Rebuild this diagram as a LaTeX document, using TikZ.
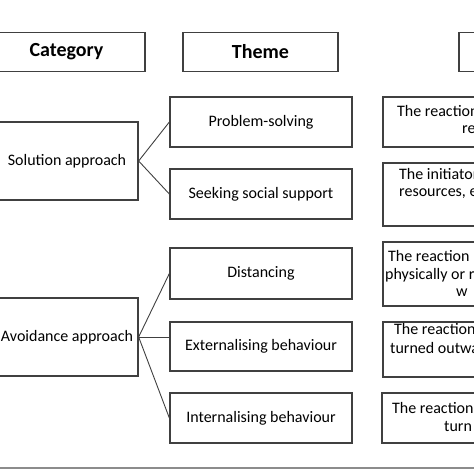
\documentclass[tikz,border=0pt]{standalone}
\usepackage{fontspec}
\setmainfont{Carlito}
\usepackage{tikz}

\begin{document}
\begin{tikzpicture}[
    x=1pt, y=-1pt, % one unit is one pixel, y grows downwards
    box/.style={draw=black!75, line width=1.3pt, inner sep=0pt, align=center,
        font=\fontsize{16}{19}\selectfont},
    head/.style={box, font=\fontsize{20}{23}\selectfont\bfseries},
    frag/.style={anchor=base west, inner sep=0pt, font=\fontsize{16}{19}\selectfont},
    link/.style={draw=black!75, line width=0.9pt}
]

\useasboundingbox (0,0) rectangle (474,474);
\clip (0,0) rectangle (474,474);

% Define the header nodes
\node[head, minimum width=157pt, minimum height=39pt] (cat) at (66.5, 52) {Category};
\node[head, minimum width=155pt, minimum height=39pt] (thm) at (260.5, 52) {Theme};
\node[head, minimum width=155pt, minimum height=39pt] (dsc) at (536.5, 52) {};

% Define the category nodes
\node[box, minimum width=142pt, minimum height=78pt] (sol) at (67, 161) {Solution approach};
\node[box, minimum width=142pt, minimum height=78pt] (avo) at (67, 337) {Avoidance approach};

% Define the theme nodes
\node[box, minimum width=182pt, minimum height=50pt] (prob) at (261, 122) {Problem-solving};
\node[box, minimum width=182pt, minimum height=50pt] (seek) at (261, 194) {Seeking social support};
\node[box, minimum width=182pt, minimum height=51pt] (dist) at (261, 273.5) {Distancing};
\node[box, minimum width=182pt, minimum height=49pt] (ext) at (261, 346.5) {Externalising behaviour};
\node[box, minimum width=182pt, minimum height=50pt] (int) at (261, 418) {Internalising behaviour};

% Define the description nodes
\node[box, minimum width=180pt, minimum height=50pt] (dprob) at (473, 122) {};
\node[box, minimum width=180pt, minimum height=63pt] (dseek) at (473, 194.5) {};
\node[box, minimum width=180pt, minimum height=64pt] (ddist) at (473, 274) {};
\node[box, minimum width=180pt, minimum height=55pt] (dext) at (473, 349.5) {};
\node[box, minimum width=180pt, minimum height=50pt] (dint) at (472, 418) {};

% Visible parts of the description texts
\node[frag] (p1) at (397, 116) {The reaction};
\node[frag] (p2) at (462, 133) {re};
\node[frag] (s1) at (399, 179) {The initiator};
\node[frag] (s2) at (399, 196) {resources, e};
\node[frag] (d1) at (388, 261) {The reaction};
\node[frag] (d2) at (385, 279) {physically or r};
\node[frag] (d3) at (456, 296) {w};
\node[frag] (e1) at (394, 334) {The reaction};
\node[frag] (e2) at (390, 353) {turned outwa};
\node[frag] (i1) at (392, 413) {The reaction};
\node[frag] (i2) at (444, 431) {turn};

% Define the edges
\draw[link] (sol.east) -- (prob.west);
\draw[link] (sol.east) -- (seek.west);
\draw[link] (avo.east) -- (dist.west);
\draw[link] (avo.east) -- (avo.east -| ext.west);
\draw[link] (avo.east) -- (int.west);

% Rule at the bottom
\draw[black!45, line width=1.4pt] (0, 468) -- (474, 468);

\end{tikzpicture}
\end{document}
